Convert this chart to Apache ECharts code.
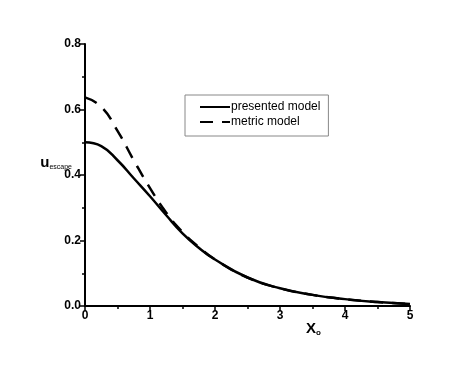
<!DOCTYPE html>
<html>
<head>
<meta charset="utf-8">
<script src="https://cdn.jsdelivr.net/npm/echarts@6/dist/echarts.min.js"></script>
<style>
  html, body { margin: 0; padding: 0; background: #fff; }
  #chart { width: 474px; height: 366px; }
</style>
</head>
<body>
<div id="chart"></div>
<script>
// x0 values and read-off curve values
const xPresented = [0, 0.25, 0.5, 0.75, 1.0, 1.25, 1.5, 1.75, 2.0, 2.5, 3.0, 3.5, 4.0, 4.5, 5.0];
const yPresented = [0.5, 0.488, 0.445, 0.39, 0.335, 0.277, 0.222, 0.178, 0.142, 0.087, 0.054, 0.034, 0.021, 0.012, 0.006];

const xMetric = [0, 0.25, 0.5, 0.75, 1.0, 1.25, 1.5, 1.75, 2.0, 2.5, 3.0, 3.5, 4.0, 4.5, 5.0];
const yMetric = [0.637, 0.608, 0.535, 0.445, 0.36, 0.285, 0.226, 0.18, 0.142, 0.087, 0.054, 0.034, 0.021, 0.012, 0.006];

const seriesNames = ['presented model', 'metric model'];

const pair = (xs, ys) => xs.map((x, i) => [x, ys[i]]);

let myChart = echarts.init(document.getElementById('chart'));

let fontFam = 'Liberation Sans, Arial';
let tickFont = { color: '#000', fontSize: 12, fontWeight: 'bold', fontFamily: fontFam };

let options = {
  animation: false,
  backgroundColor: '#fff',
  grid: { left: 85, right: 64, top: 44, bottom: 60 },
  legend: {
    left: 185,
    top: 95,
    orient: 'vertical',
    padding: [6, 8, 8, 14],
    itemGap: 3,
    itemWidth: 30,
    itemHeight: 12,
    borderColor: '#888',
    borderWidth: 1,
    itemStyle: { opacity: 0 },
    textStyle: { color: '#000', fontSize: 12, fontFamily: fontFam, padding: [0, 0, 0, -4] },
    data: seriesNames
  },
  xAxis: {
    type: 'value',
    min: 0,
    max: 5,
    interval: 1,
    name: '{b|X}{s|o}',
    nameLocation: 'middle',
    nameGap: 14,
    nameMoveOverlap: false,
    nameTextStyle: {
      padding: [0, 0, 0, 132],
      rich: {
        b: { fontSize: 15, fontWeight: 'bold', color: '#000', fontFamily: fontFam },
        s: { fontSize: 8, fontWeight: 'bold', color: '#000', padding: [9, 0, 0, 0], fontFamily: fontFam }
      }
    },
    axisLine: { show: true, onZero: false, lineStyle: { color: '#000', width: 2 } },
    axisTick: { show: true, length: 5, lineStyle: { color: '#000', width: 1.5 } },
    minorTick: { show: true, splitNumber: 2, length: 3, lineStyle: { color: '#000', width: 1.5 } },
    axisLabel: Object.assign({ margin: 4 }, tickFont),
    splitLine: { show: false }
  },
  yAxis: {
    type: 'value',
    min: 0,
    max: 0.8,
    interval: 0.2,
    name: '{b|u}{s|escape}',
    nameLocation: 'middle',
    nameRotate: 0,
    nameGap: 13,
    nameMoveOverlap: false,
    nameTextStyle: {
      padding: [0, 0, 24, 0],
      rich: {
        b: { fontSize: 15, fontWeight: 'bold', color: '#000', fontFamily: fontFam },
        s: { fontSize: 7, color: '#000', padding: [9, 0, 0, 0], fontFamily: fontFam }
      }
    },
    axisLine: { show: true, onZero: false, lineStyle: { color: '#000', width: 2 } },
    axisTick: { show: true, length: 5, lineStyle: { color: '#000', width: 1.5 } },
    minorTick: { show: true, splitNumber: 2, length: 3, lineStyle: { color: '#000', width: 1.5 } },
    axisLabel: Object.assign({ margin: 4, formatter: v => v.toFixed(1) }, tickFont),
    splitLine: { show: false }
  },
  series: [
    {
      name: seriesNames[1],
      type: 'line',
      smooth: 0.5,
      showSymbol: false,
      data: pair(xMetric, yMetric),
      lineStyle: { color: '#000', width: 2.5, type: [13, 9] },
      itemStyle: { color: '#000' },
      z: 2
    },
    {
      name: seriesNames[0],
      type: 'line',
      smooth: 0.5,
      showSymbol: false,
      data: pair(xPresented, yPresented),
      lineStyle: { color: '#000', width: 2.5 },
      itemStyle: { color: '#000' },
      z: 3
    }
  ]
};

myChart.setOption(options, true);
</script>
</body>
</html>
